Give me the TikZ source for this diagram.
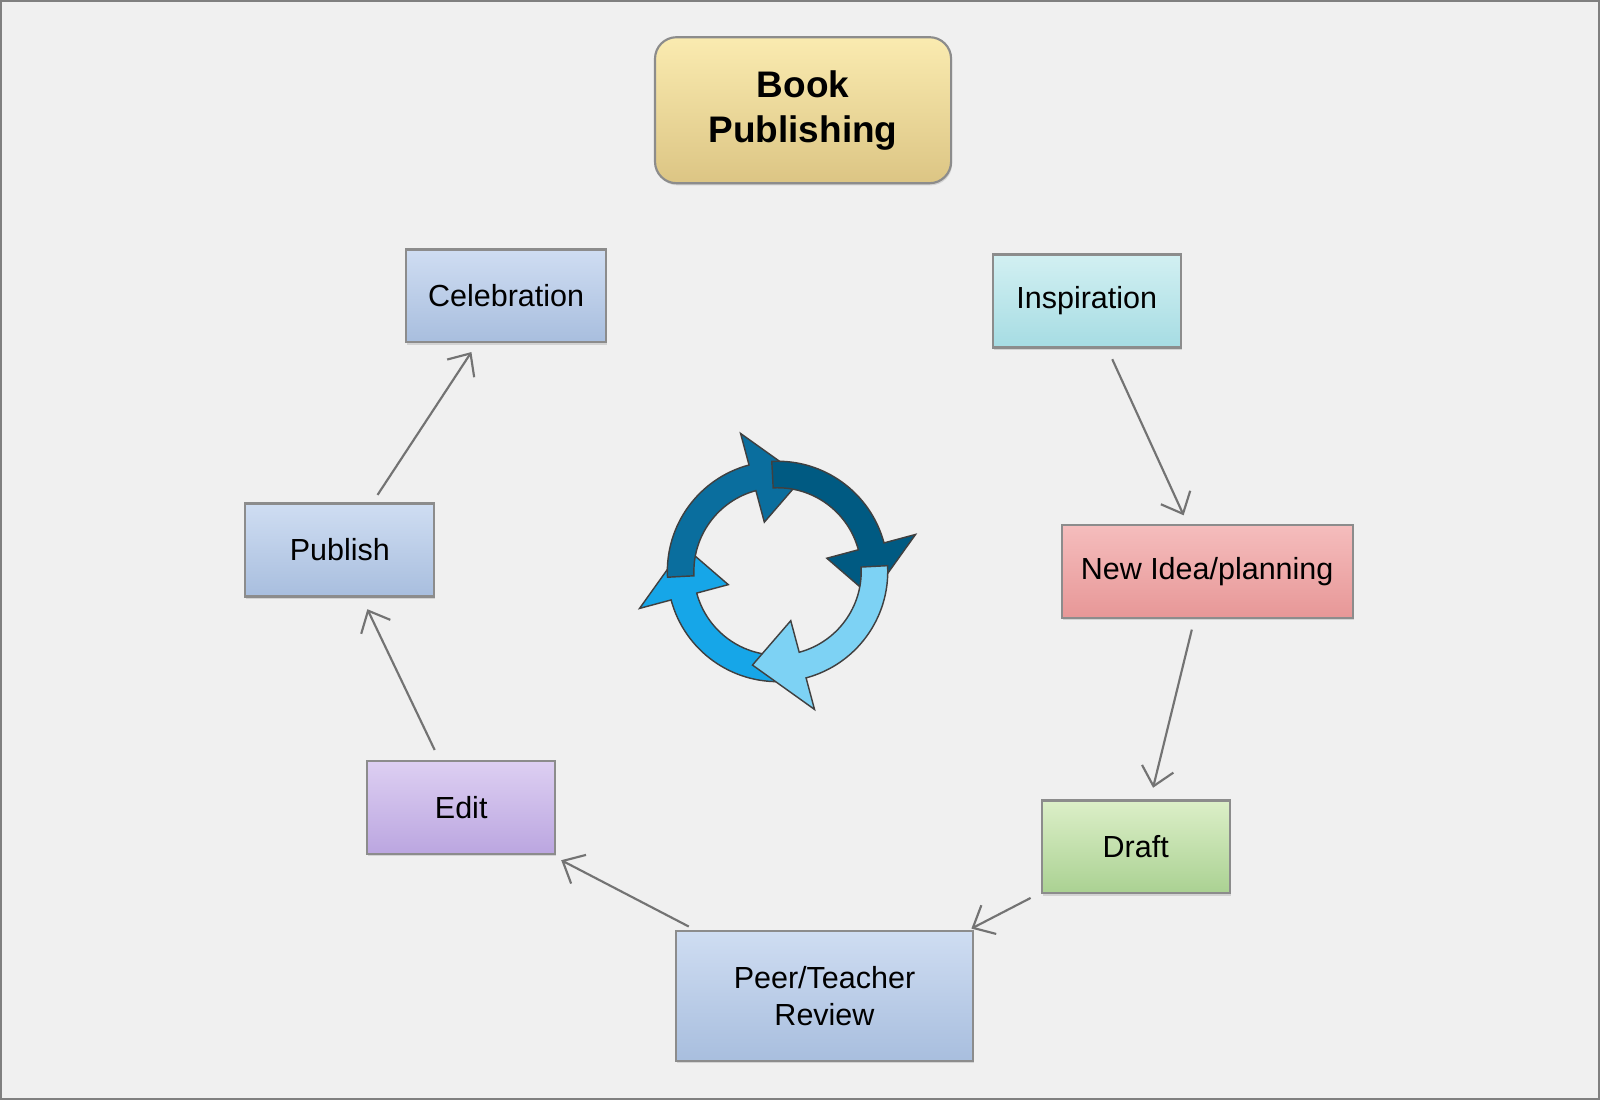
\documentclass[tikz,border=0pt]{standalone}
\usepackage{fontspec}
\setmainfont{Liberation Sans}
\usetikzlibrary{arrows.meta,shadows,calc}
\definecolor{bT}{HTML}{CFDDF2}\definecolor{bB}{HTML}{A8BEDE}
\definecolor{cT}{HTML}{D2F0F2}\definecolor{cB}{HTML}{A6DCE3}
\definecolor{rT}{HTML}{F5BDBD}\definecolor{rB}{HTML}{E79797}
\definecolor{gT}{HTML}{DCEFC8}\definecolor{gB}{HTML}{AAD192}
\definecolor{vT}{HTML}{DDCFF2}\definecolor{vB}{HTML}{BBA6E0}
\definecolor{yT}{HTML}{FAEBB0}\definecolor{yB}{HTML}{DCC584}
\definecolor{k1}{HTML}{16A6E8}\definecolor{k2}{HTML}{0A6E9E}
\definecolor{k3}{HTML}{005A82}\definecolor{k4}{HTML}{7DD2F4}
\begin{document}
\begin{tikzpicture}[x=0.01cm,y=-0.01cm,
  box/.style={draw=black!45,line width=0.6pt,minimum width=1.84cm,minimum height=0.91cm,font=\fontsize{8.5}{10.3}\selectfont,align=center,drop shadow={shadow xshift=0.3pt,shadow yshift=-0.6pt,opacity=0.25}},
  arr/.style={draw=black!55,line width=0.6pt,-{Straight Barb[length=5pt,width=9pt]}},
  cyc/.style={draw=black!75,line width=0.4pt}]
\fill[gray!12] (0,0) rectangle (1568,1078);
\draw[black!50,line width=0.5pt] (1,1) rectangle (1567,1077);
\useasboundingbox (0,0) rectangle (1568,1078);
\node[box,rounded corners=6pt,minimum width=2.9cm,minimum height=1.43cm,top color=yT,bottom color=yB,font=\fontsize{10.3}{12.5}\selectfont\bfseries] (title) at (787,108) {Book\\Publishing};
\node[box,minimum width=1.96cm,top color=bT,bottom color=bB] (cel) at (496,290) {Celebration};
\node[box,top color=cT,bottom color=cB] (insp) at (1065,295) {Inspiration};
\node[box,minimum width=2.85cm,top color=rT,bottom color=rB] (idea) at (1183,560) {New Idea/planning};
\node[box,top color=gT,bottom color=gB] (draft) at (1113,830) {Draft};
\node[box,minimum width=2.91cm,minimum height=1.28cm,top color=bT,bottom color=bB] (rev) at (808,976) {Peer/Teacher\\Review};
\node[box,top color=vT,bottom color=vB] (edit) at (452,791) {Edit};
\node[box,minimum width=1.85cm,top color=bT,bottom color=bB] (pub) at (333,539) {Publish};
\coordinate (a1) at (1090,352); \coordinate (b1) at (1160,505);
\coordinate (a2) at (1168,617); \coordinate (b2) at (1130,772);
\coordinate (a3) at (1010,880); \coordinate (b3) at (952,910);
\coordinate (a4) at (675,908);  \coordinate (b4) at (550,843);
\coordinate (a5) at (426,735);  \coordinate (b5) at (360,597);
\coordinate (a6) at (370,485);  \coordinate (b6) at (462,345);
\draw[arr] (a1) -- (b1);
\draw[arr] (a2) -- (b2);
\draw[arr] (a3) -- (b3);
\draw[arr] (a4) -- (b4);
\draw[arr] (a5) -- (b5);
\draw[arr] (a6) -- (b6);
\coordinate (C) at (762,560);
\foreach \t/\c in {165/k1,255/k2,345/k3,75/k4}{
  \pgfmathsetmacro{\s}{\t-78}
  \pgfmathsetmacro{\tp}{\t+30}
  \filldraw[cyc,fill=\c] ($(C)+(\s:82)$) arc[start angle=\s,end angle=\t,radius=82]
    -- ($(C)+(\t:50)$) -- ($(C)+(\tp:95)$) -- ($(C)+(\t:140)$) -- ($(C)+(\t:108)$)
    arc[start angle=\t,end angle=\s,radius=108] -- cycle;
}
\end{tikzpicture}
\end{document}
